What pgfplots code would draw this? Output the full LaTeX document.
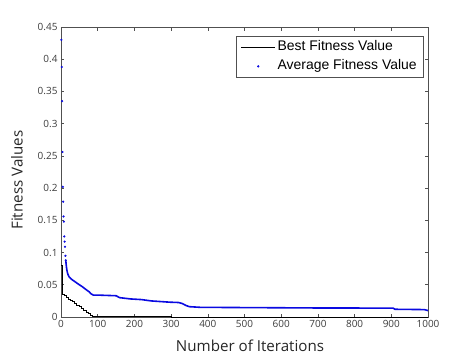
\documentclass[border=0pt]{standalone}
\usepackage{pgfplots}
\pgfplotsset{compat=1.18}
\usepackage{fontspec}
\setmainfont{Open Sans}
\newfontfamily\legfont{Liberation Sans}
\definecolor{axgray}{RGB}{80,80,80}
\definecolor{tickgray}{RGB}{60,60,60}
\definecolor{avgblue}{RGB}{10,10,225}
\begin{document}
\begin{tikzpicture}
\begin{axis}[
  scale only axis,
  width=367bp, height=290bp,
  xmin=0, xmax=1000, ymin=0, ymax=0.45,
  xtick={0,100,...,1000},
  ytick={0,0.05,...,0.45},
  yticklabels={0,0.05,0.1,0.15,0.2,0.25,0.3,0.35,0.4,0.45},
  scaled ticks=false,
  /pgf/number format/1000 sep={},
  tick align=inside,
  major tick length=3.5bp,
  axis line style={axgray, line width=0.6bp},
  tick style={axgray, line width=0.6bp},
  ticklabel style={font=\fontsize{10}{12}\selectfont, text=tickgray},
  /pgf/number format/assume math mode=true,
  xlabel={Number of Iterations},
  ylabel={Fitness Values},
  label style={font=\fontsize{15.2}{17}\selectfont, text=black!85},
  xlabel style={at={(axis description cs:0.515,-0.1)}, anchor=center},
  ylabel style={at={(axis description cs:-0.12,0.472)}, anchor=center},
  legend style={at={(rel axis cs:0.989,0.969)}, anchor=north east,
    draw=axgray, line width=0.6bp, font=\legfont\fontsize{14}{16}\selectfont,
    inner xsep=5bp, inner ysep=3.5bp, row sep=4bp,
    nodes={inner xsep=2bp, inner ysep=1bp, text height=10bp, text depth=3bp}},
  legend cell align=left,
]
\addplot[black, line width=0.6bp, const plot, legend image code/.code={\draw[black, line width=0.7bp] (0cm,0cm) -- (1.2cm,0cm);}] coordinates {
(1,0.080) (3,0.036) (10,0.034) (15,0.031) (20,0.028) (25,0.026) (30,0.024)
(35,0.022) (43,0.018) (50,0.016) (55,0.013) (61,0.011) (68,0.008)
(75,0.005) (80,0.003) (85,0.0012) (300,0.0012) (300,0) (1000,0)
};
\addlegendentry{Best Fitness Value}
\addplot[only marks, mark=*, mark size=0.9bp, avgblue, legend image code/.code={\fill[avgblue] (0.6cm,0cm) circle (0.8bp); \path (0cm,0cm) (1.2cm,0cm);}] coordinates {
(1,0.430) (2,0.388) (3,0.335) (4,0.256) (5,0.202) (6,0.179) (7,0.156)
(8,0.148) (9,0.125) (10,0.117) (11,0.109) (12,0.095) (13,0.088)
};
\addlegendentry{Average Fitness Value}
\addplot[avgblue, line width=1.6bp, forget plot] coordinates {
(13,0.088) (14,0.082) (15,0.077) (16,0.073) (17,0.070) (19,0.066)
(22,0.0625) (26,0.060) (30,0.058) (35,0.056) (40,0.054) (45,0.052)
(50,0.050) (58,0.047) (65,0.044) (72,0.041) (77,0.039) (82,0.036)
(88,0.034) (100,0.034) (150,0.033) (160,0.030) (175,0.029) (190,0.028)
(220,0.027) (245,0.025) (270,0.024) (296,0.023) (320,0.0225) (330,0.021)
(340,0.018) (350,0.016) (380,0.015) (540,0.0145) (700,0.014) (905,0.0138)
(910,0.012) (990,0.0115) (1000,0.010)
};
\end{axis}
\pgfresetboundingbox
\path (current axis.south west) ++(-61bp,-38bp) rectangle ++(474bp,355bp);
\end{tikzpicture}
\end{document}
